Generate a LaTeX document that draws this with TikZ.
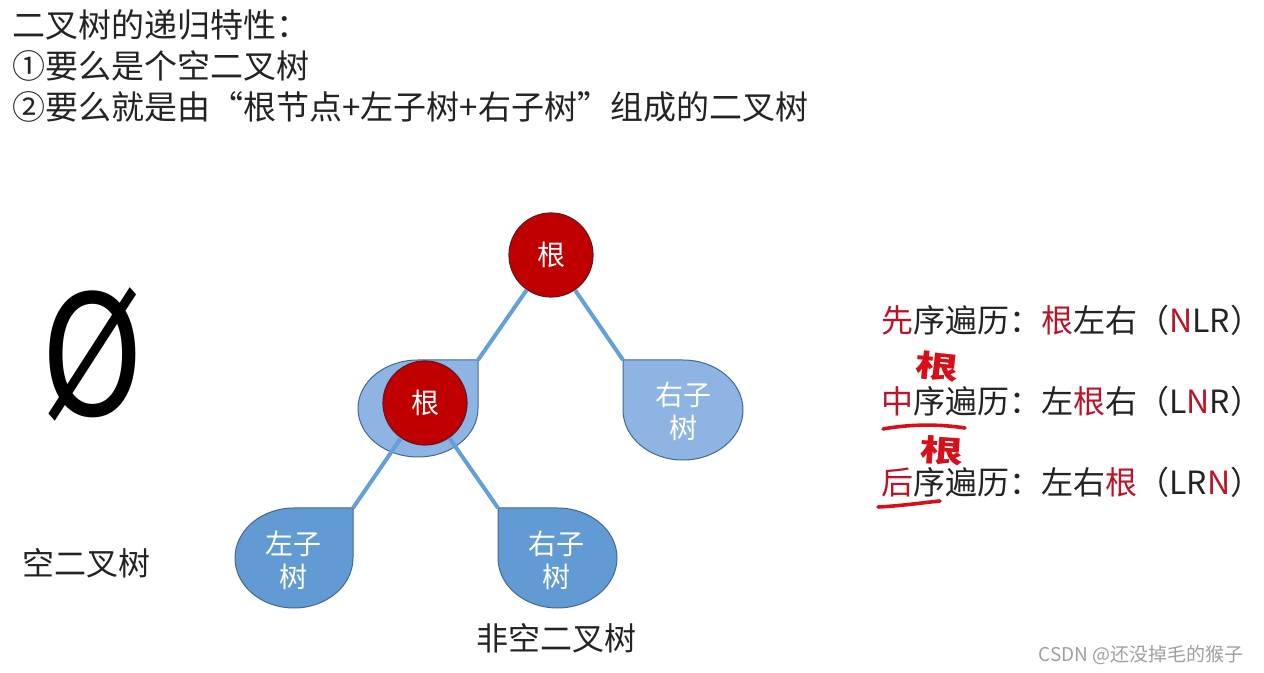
\documentclass[tikz,border=0pt]{standalone}
\usepackage{fontspec}
\usepackage{graphicx}
\setmainfont{Noto Sans CJK SC}
\newfontfamily\symfont{DejaVu Sans}
\usetikzlibrary{positioning}

\definecolor{rootred}{RGB}{192,0,0}
\definecolor{rootline}{RGB}{110,20,30}
\definecolor{lightdrop}{RGB}{141,180,226}
\definecolor{darkdrop}{RGB}{98,155,212}
\definecolor{dropline}{RGB}{65,105,145}
\definecolor{edgeblue}{RGB}{100,160,215}
\definecolor{markred}{RGB}{185,20,40}
\definecolor{textgray}{RGB}{35,35,35}
\definecolor{penred}{RGB}{215,15,25}

\begin{document}
\begin{tikzpicture}[x=0.5pt,y=-0.5pt,
        rootnode/.style={circle,fill=rootred,draw=rootline,line width=0.6pt,minimum size=42pt,inner sep=0pt,text=white,font=\fontsize{14}{14}\selectfont},
        subtext/.style={align=center,text=white,font=\fontsize{14}{16.5}\selectfont},
        drop/.style={draw=dropline,line width=0.5pt},
        edge/.style={edgeblue,line width=2pt},
        bigtext/.style={text=textgray,font=\fontsize{16}{20.5}\selectfont},
        pentext/.style={text=penred,font=\bfseries\fontsize{15}{15}\selectfont},
        pen/.style={penred,line width=1.8pt,line cap=round}]
    \useasboundingbox (0,0) rectangle (1264,673);

    % heading
    \node[bigtext,font=\fontsize{16.5}{20.5}\selectfont,anchor=north west,align=left,inner sep=0pt] (head) at (12,9)
        {二叉树的递归特性：\\①要么是个空二叉树\\②要么就是由“根节点+左子树+右子树”组成的二叉树};

    % empty tree
    \node[font=\symfont\fontsize{84}{84}\selectfont,inner sep=0pt] (empty) at (93,354) {\scalebox{0.76}[1]{Ø}};
    \node[bigtext] (emptylab) at (87,563) {空二叉树};

    % drop shapes
    \coordinate (lcorner) at (478,360);
    \coordinate (rcorner) at (623,360);
    \coordinate (llcorner) at (353,508);
    \coordinate (lrcorner) at (498,508);
    \path[drop,fill=lightdrop] (lcorner) -- (478,408.5) arc[start angle=0,end angle=270,x radius=60,y radius=48.5] -- cycle;
    \path[drop,fill=lightdrop] (rcorner) -- (623,410) arc[start angle=180,end angle=-90,x radius=60,y radius=50] -- cycle;
    \path[drop,fill=darkdrop] (llcorner) -- (353,558) arc[start angle=0,end angle=270,x radius=59,y radius=50] -- cycle;
    \path[drop,fill=darkdrop] (lrcorner) -- (498,558) arc[start angle=180,end angle=-90,x radius=59.5,y radius=50] -- cycle;

    % nodes
    \node[rootnode] (root) at (551,255) {根};
    \node[rootnode] (lroot) at (425,403) {根};
    \node[subtext] (rsub) at (683,411) {右子\\树};
    \node[subtext] (llsub) at (293,560) {左子\\树};
    \node[subtext] (lrsub) at (556,560) {右子\\树};

    \draw[edge] (root) -- (lcorner);
    \draw[edge] (root) -- (rcorner);
    \draw[edge] (lroot) -- (llcorner);
    \draw[edge] (lroot) -- (lrcorner);

    \node[bigtext] (treelab) at (556,638) {非空二叉树};

    % traversals
    \node[bigtext,anchor=west,inner sep=0pt] (pre) at (881,320)
        {\textcolor{markred}{先}序遍历：\textcolor{markred}{根}左右（\textcolor{markred}{N}LR）};
    \node[bigtext,anchor=west,inner sep=0pt] (mid) at (881,401)
        {\textcolor{markred}{中}序遍历：左\textcolor{markred}{根}右（L\textcolor{markred}{N}R）};
    \node[bigtext,anchor=west,inner sep=0pt] (post) at (881,482)
        {\textcolor{markred}{后}序遍历：左右\textcolor{markred}{根}（LR\textcolor{markred}{N}）};

    % pen marks
    \node[pentext,inner sep=0pt,rotate=-6] (pen1) at (937,366) {\scalebox{1.45}[1]{根}};
    \node[pentext,inner sep=0pt,rotate=-4] (pen2) at (942,451) {\scalebox{1.45}[1]{根}};
    \coordinate (u1a) at (883,429);
    \coordinate (u1b) at (965,428);
    \coordinate (u2a) at (878,507);
    \coordinate (u2b) at (940,501);
    \draw[pen] (u1a) .. controls (910,424) and (940,424) .. (u1b);
    \draw[pen] (u2a) .. controls (900,506) and (920,503) .. (u2b);

    \node[text=gray!75,font=\fontsize{9.5}{11}\selectfont,anchor=east] (mark) at (1251,655) {CSDN @还没掉毛的猴子};
\end{tikzpicture}
\end{document}
